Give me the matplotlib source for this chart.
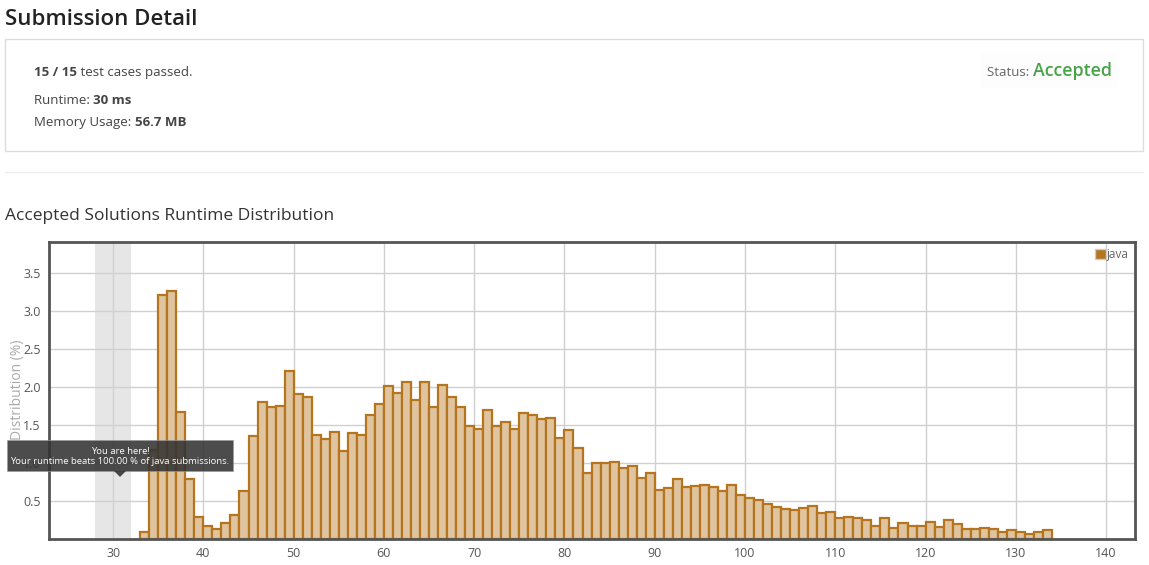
import numpy as np
import matplotlib
matplotlib.use("Agg")
import matplotlib.pyplot as plt
from matplotlib.patches import Rectangle, Polygon, Patch

plt.rcParams['font.family'] = ['Open Sans', 'DejaVu Sans']

# runtime bins (ms, left edge) and share of accepted java solutions (%)
runtime_ms = np.arange(33, 134)
distribution = [
    0.09, 1.17, 3.21, 3.26, 1.67, 0.79, 0.28, 0.16, 0.12, 0.21,
    0.31, 0.62, 1.35, 1.80, 1.73, 1.75, 2.21, 1.91, 1.86, 1.37,
    1.31, 1.41, 1.15, 1.39, 1.37, 1.63, 1.78, 2.01, 1.92, 2.07,
    1.82, 2.07, 1.74, 2.03, 1.86, 1.74, 1.48, 1.44, 1.69, 1.49,
    1.54, 1.45, 1.66, 1.63, 1.58, 1.59, 1.33, 1.43, 1.19, 0.87,
    0.99, 0.99, 1.01, 0.93, 0.96, 0.80, 0.87, 0.64, 0.67, 0.79,
    0.68, 0.69, 0.71, 0.68, 0.62, 0.70, 0.57, 0.53, 0.51, 0.46,
    0.42, 0.39, 0.37, 0.40, 0.43, 0.34, 0.35, 0.27, 0.29, 0.27,
    0.24, 0.16, 0.27, 0.14, 0.21, 0.16, 0.16, 0.22, 0.15, 0.24,
    0.19, 0.12, 0.13, 0.14, 0.13, 0.09, 0.11, 0.09, 0.06, 0.08,
    0.11,
]
x_ticks = [30, 40, 50, 60, 70, 80, 90, 100, 110, 120, 130, 140]
y_ticks = [0.5, 1.0, 1.5, 2.0, 2.5, 3.0, 3.5]
my_runtime = 30
series_name = "java"

W, H = 1149, 565
fig = plt.figure(figsize=(W / 100, H / 100), dpi=100)
fig.patch.set_facecolor("white")


def px(x, y):
    return x / W, 1 - y / H


def text_run(x, y, parts):
    # draw a line of text made of several styled pieces, one after another
    fig.canvas.draw()
    r = fig.canvas.get_renderer()
    cur = x
    for s, kw in parts:
        t = fig.text(*px(cur, y), s, va="baseline", ha="left", **kw)
        bb = t.get_window_extent(renderer=r)
        cur += bb.width


# header
fig.text(*px(5, 25), "Submission Detail", fontsize=16, color="#222",
         fontweight="semibold", va="baseline")
fig.add_artist(Rectangle(px(5, 151), 1138 / W, 112 / H, transform=fig.transFigure,
                         fill=False, edgecolor="#dddddd", lw=1))
fig.add_artist(Rectangle(px(981, 88), 136 / W, 36 / H, transform=fig.transFigure,
                         facecolor="#fdfdfd", edgecolor="none"))
body = dict(fontsize=9.5, color="#444")
bold = dict(fontsize=9.5, color="#444", fontweight="bold")
text_run(34, 76, [("15 / 15", bold), (" test cases passed.", body)])
text_run(34, 104, [("Runtime: ", body), ("30 ms", bold)])
text_run(34, 126, [("Memory Usage: ", body), ("56.7 MB", bold)])
text_run(987, 76, [("Status: ", dict(fontsize=9.5, color="#666")),
                   ("Accepted", dict(fontsize=12.8, color="#48a348",
                                     fontweight="semibold"))])
fig.add_artist(plt.Line2D([5 / W, 1143 / W], [1 - 172 / H] * 2,
                          transform=fig.transFigure, color="#eeeeee", lw=1))
fig.text(*px(5, 220), "Accepted Solutions Runtime Distribution",
         fontsize=12.5, color="#333", va="baseline")

# chart
ax = fig.add_axes([49 / W, (H - 538.5) / H, 1086 / W, 296.5 / H])
ax.set_axisbelow(True)
ax.axvspan(my_runtime - 2, my_runtime + 2, color="#e6e6e6", zorder=0.3, lw=0)
ax.bar(runtime_ms, distribution, width=1.0, align="edge",
       facecolor="#e0c49f", edgecolor="#b5751f", linewidth=1.6, zorder=2)
ax.set_xlim(22.9, 143.2)
ax.set_ylim(0, 3.91)
ax.set_xticks(x_ticks)
ax.set_yticks(y_ticks)
ax.set_yticklabels(["%.1f" % v for v in y_ticks])
ax.grid(True, color="#d0d0d0", lw=1)
ax.tick_params(length=0, labelsize=9, colors="#555", pad=6)
for sp in ax.spines.values():
    sp.set_color("#555555")
    sp.set_linewidth(2)
ax.set_ylabel("Distribution (%)", color="#aaaaaa", fontsize=10)
ax.yaxis.set_label_coords(-24 / 1086, 0.5)
ax.legend(handles=[Patch(facecolor="#b5761f", edgecolor="#cccccc", label=series_name)],
          loc="upper right", frameon=False, fontsize=8.5, labelcolor="#666",
          handlelength=0.95, handleheight=0.95, handletextpad=0.1,
          borderaxespad=0.2, borderpad=0.3, bbox_to_anchor=(1.0, 1.0))

# "you are here" tooltip
fig.add_artist(Rectangle(px(7, 471), 226 / W, 31 / H, transform=fig.transFigure,
                         facecolor="#333333", alpha=0.88, edgecolor="#999", lw=0.5,
                         zorder=5))
fig.add_artist(Polygon([px(114, 471), px(126, 471), px(120, 477)], closed=True,
                       transform=fig.transFigure, facecolor="#333333", alpha=0.88,
                       edgecolor="none", zorder=5))
fig.text(*px(120, 451), "You are here!", fontsize=6.8, color="white",
         ha="center", va="center", zorder=6)
fig.text(*px(120, 462), "Your runtime beats 100.00 % of java submissions.",
         fontsize=6.8, color="white", ha="center", va="center", zorder=6)

fig.savefig("out.png", dpi=100)
